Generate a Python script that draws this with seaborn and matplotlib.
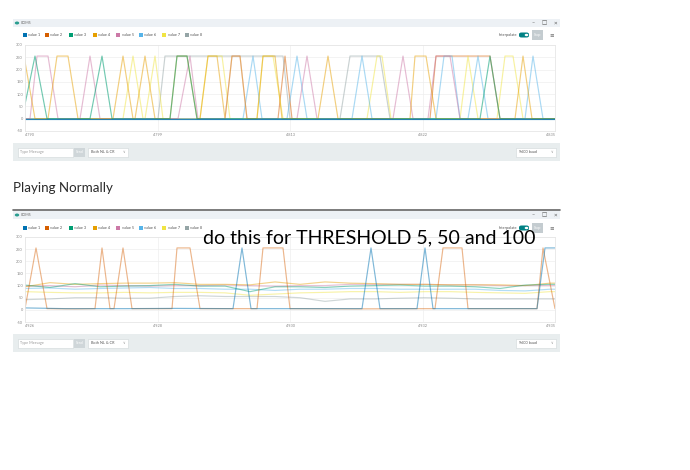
import numpy as np
import pandas as pd
import matplotlib
matplotlib.use("Agg")
import matplotlib.pyplot as plt
import seaborn as sns
from matplotlib.patches import Rectangle, FancyBboxPatch, Circle

sns.set_theme(style="white")
plt.rcParams['font.family'] = ['Lato', 'DejaVu Sans']

# ---------------- data ----------------
series_names = ["value 1", "value 2", "value 3", "value 4",
                "value 5", "value 6", "value 7", "value 8"]
series_colors = ["#0072B2", "#D55E00", "#009E73", "#E69F00",
                 "#CC79A7", "#56B4E9", "#F0E442", "#95A5A6"]
y_ticks = [-50, 0, 50, 100, 150, 200, 250, 300]
x_tick_pos = [0, 132.5, 265, 397.5, 530]
top_xticklabels = ["4790", "4799", "4813", "4822", "4835"]
bottom_xticklabels = ["4926", "4928", "4930", "4932", "4935"]

# top chart: pulses (rise start, top start, top end, fall end) per series
top_pulses_v1 = []
top_pulses_v2 = [(253, 260, 260, 267), (405, 411, 465, 475)]
top_pulses_v3 = [(-3, 10, 10, 22), (65, 77, 77, 87), (145, 152, 162, 172),
                 (455, 465, 465, 475)]
top_pulses_v4 = [(-20, -10, -1, 10), (23, 32, 43, 53), (88, 98, 98, 108),
                 (110, 120, 120, 130), (145, 152, 162, 172), (175, 183, 192, 200),
                 (200, 207, 215, 222), (232, 238, 250, 257), (293, 303, 303, 313),
                 (385, 390, 401, 411), (490, 498, 498, 507)]
top_pulses_v5 = [(5, 12, 23, 33), (55, 65, 65, 75), (153, 165, 165, 173),
                 (200, 207, 215, 222), (272, 282, 282, 292), (368, 378, 378, 388),
                 (403, 411, 425, 435)]
top_pulses_v6 = [(218, 228, 228, 237), (262, 272, 272, 282), (327, 337, 337, 347),
                 (411, 419, 427, 435), (443, 453, 453, 463), (500, 508, 508, 518)]
top_pulses_v7 = [(98, 108, 108, 118), (120, 130, 130, 138), (175, 183, 197, 205),
                 (232, 238, 248, 258), (342, 352, 357, 366), (435, 443, 443, 453),
                 (472, 480, 488, 498)]
top_pulses_v8 = [(133, 140, 258, 265), (315, 325, 355, 365)]
top_low = 0
top_high = 255

# bottom chart
bot_v1_x = [0, 40, 100, 150, 208, 217, 226, 280, 337, 346, 355, 392, 400, 408,
            470, 512, 520, 530]
bot_v1_y = [8, 5, 5, 6, 5, 255, 5, 5, 5, 255, 5, 5, 255, 5, 5, 5, 255, 255]
bot_v2_x = [0, 11, 22, 50, 70, 77, 85, 89, 98, 107, 147, 152, 165, 175, 232,
            238, 258, 265, 330, 410, 418, 437, 443, 512, 518, 530]
bot_v2_y = [5, 255, 5, 4, 5, 255, 5, 5, 255, 5, 5, 255, 255, 5, 5, 255, 255,
            5, 4, 5, 255, 255, 5, 5, 255, 5]
bot_t = [0, 25, 50, 75, 100, 125, 150, 175, 200, 225, 250, 275, 300, 325,
         350, 375, 400, 425, 450, 475, 500, 525, 530]
bot_v3 = [102, 92, 108, 95, 98, 100, 105, 98, 98, 75, 95, 95, 92, 98, 100,
          102, 98, 98, 95, 88, 102, 105, 105]
bot_v4 = [95, 112, 105, 108, 110, 110, 112, 105, 105, 103, 115, 105, 115, 110,
          108, 105, 105, 103, 103, 103, 100, 110, 110]
bot_v5 = [98, 100, 95, 102, 100, 98, 100, 100, 102, 100, 98, 100, 100, 105,
          105, 105, 105, 103, 103, 100, 100, 100, 100]
bot_v6 = [88, 90, 85, 88, 90, 92, 88, 88, 85, 85, 80, 85, 85, 88, 88, 85, 85,
          85, 85, 80, 78, 85, 85]
bot_v7 = [75, 72, 70, 70, 72, 70, 72, 72, 70, 60, 65, 70, 72, 75, 75, 72, 75,
          75, 72, 70, 68, 75, 75]
bot_v8 = [42, 45, 50, 50, 48, 48, 55, 58, 55, 55, 55, 50, 35, 45, 45, 48, 50,
          48, 45, 45, 45, 45, 45]


def pulses_xy(pulses, low, high):
    xs, ys = [-40], [low]
    for a, b, c, d in pulses:
        xs += [a, b, c, d]
        ys += [low, high, high, low]
    xs.append(570)
    ys.append(low)
    return xs, ys


# ---------------- figure ----------------
W, H = 690, 470
fig = plt.figure(figsize=(6.9, 4.7), dpi=100)
fig.patch.set_facecolor("white")


def px(x, y):
    return x / W, 1 - y / H


def rect(x, y, w, h, **kw):
    fig.add_artist(Rectangle((x / W, 1 - (y + h) / H), w / W, h / H,
                             transform=fig.transFigure, **kw))


def rrect(x, y, w, h, r=1.5, **kw):
    fig.add_artist(FancyBboxPatch((x / W, 1 - (y + h) / H), w / W, h / H,
                                  boxstyle=f"round,pad=0,rounding_size={r / W}",
                                  transform=fig.transFigure, **kw))


def ftext(x, y, s, **kw):
    fig.text(x / W, 1 - y / H, s, **kw)


def window(top, plot_top, plot_bot, bar_top, bar_h, legend_y):
    # title bar
    rect(13, top, 547, 8, facecolor="#edf1f5", edgecolor="none")
    fig.add_artist(Circle(px(17, top + 4), 2.2 / W, transform=fig.transFigure,
                          facecolor="#2a9d8f", edgecolor="none"))
    ftext(21, top + 4, "COM5", fontsize=2.6, color="#666", va="center")
    ftext(533, top + 4, "\u2013", fontsize=4, color="#555", va="center", ha="center")
    ftext(544, top + 4, "\u25a1", fontsize=4, color="#555", va="center", ha="center",
          family="DejaVu Sans")
    ftext(555, top + 4, "\u00d7", fontsize=4.5, color="#555", va="center", ha="center")
    # legend
    lx = [23, 45, 69, 93, 116, 139, 162, 185]
    for x, name, c in zip(lx, series_names, series_colors):
        rect(x, legend_y - 2, 4, 4, facecolor=c, edgecolor="none")
        ftext(x + 5.5, legend_y, name, fontsize=2.8, color="#555", va="center")
    # interpolate toggle, stop button, icon
    ftext(517, legend_y, "Interpolate", fontsize=2.8, color="#555", va="center", ha="right")
    rrect(519, legend_y - 2.5, 10, 5, r=2.5, facecolor="#008184", edgecolor="none")
    fig.add_artist(Circle(px(526.5, legend_y), 1.8 / W, transform=fig.transFigure,
                          facecolor="white", edgecolor="none"))
    rect(532, legend_y - 5, 11, 10, facecolor="#c4ccd0", edgecolor="none")
    ftext(537.5, legend_y, "Stop", fontsize=2.6, color="white", va="center", ha="center")
    ftext(552, legend_y, "\u2261", fontsize=4, color="#666", va="center", ha="center",
          family="DejaVu Sans")
    # bottom control bar
    rect(13, bar_top, 547, bar_h, facecolor="#e8edee", edgecolor="none")
    cy = bar_top + bar_h / 2
    rect(18, cy - 4.5, 55, 9, facecolor="white", edgecolor="#d0d6d8", linewidth=0.4)
    ftext(20, cy, "Type Message", fontsize=2.7, color="#999", va="center")
    rect(74, cy - 4.5, 11, 9, facecolor="#cfd6d9", edgecolor="none")
    ftext(79.5, cy, "Send", fontsize=2.5, color="white", va="center", ha="center")
    rect(88, cy - 4.5, 40, 9, facecolor="white", edgecolor="#d0d6d8", linewidth=0.4)
    ftext(91, cy, "Both NL & CR", fontsize=2.7, color="#555", va="center")
    ftext(124, cy, "\u2228", fontsize=2.6, color="#999", va="center", ha="center",
          family="DejaVu Sans")
    rect(516, cy - 4.5, 40, 9, facecolor="white", edgecolor="#d0d6d8", linewidth=0.4)
    ftext(519, cy, "9600 baud", fontsize=2.7, color="#555", va="center")
    ftext(552, cy, "\u2228", fontsize=2.6, color="#999", va="center", ha="center",
          family="DejaVu Sans")
    # axes
    ax = fig.add_axes([25 / W, 1 - plot_bot / H, 530 / W, (plot_bot - plot_top) / H])
    ax.set_facecolor("white")
    return ax


def style_axes(ax, xlabels):
    ax.set_xlim(0, 530)
    ax.set_ylim(-50, 300)
    ax.set_yticks(y_ticks)
    ax.set_yticklabels([str(v) for v in y_ticks])
    ax.set_xticks(x_tick_pos)
    ax.set_xticklabels(xlabels)
    ax.tick_params(axis="both", length=0, labelsize=2.8, labelcolor="#888", pad=1.5)
    for lbl, ha in zip(ax.get_xticklabels(), ["left", "center", "center", "center", "right"]):
        lbl.set_ha(ha)
    ax.grid(True, color="#eeeeee", linewidth=0.5)
    ax.set_axisbelow(True)
    for s in ax.spines.values():
        s.set_color("#e6e6e6")
        s.set_linewidth(0.6)
    ax.set_xlabel("")
    ax.set_ylabel("")


# ---------- top window ----------
ax1 = window(top=19, plot_top=45, plot_bot=131, bar_top=143, bar_h=18, legend_y=35)
top_pulses = [top_pulses_v1, top_pulses_v2, top_pulses_v3, top_pulses_v4,
              top_pulses_v5, top_pulses_v6, top_pulses_v7, top_pulses_v8]
order = [1, 7, 6, 5, 4, 3, 2, 0]
top_alpha = [0.8, 0.5, 0.55, 0.5, 0.5, 0.5, 0.5, 0.5]
for i in order:
    xs, ys = pulses_xy(top_pulses[i], top_low, top_high)
    sns.lineplot(x=xs, y=ys, ax=ax1, color=series_colors[i], linewidth=0.85,
                 alpha=top_alpha[i], estimator=None, sort=False, legend=False)
style_axes(ax1, top_xticklabels)

# ---------- text ----------
ftext(13, 188, "Playing Normally", fontsize=9.6, color="#2a2a2a", va="center")

# ---------- bottom window ----------
fig.add_artist(plt.Line2D([13 / W, 560 / W], [1 - 210 / H, 1 - 210 / H],
                          transform=fig.transFigure, color="#666", linewidth=1.2))
ax2 = window(top=211, plot_top=237, plot_bot=322, bar_top=334, bar_h=18, legend_y=228)
bot_series = [(bot_v8, 7), (bot_v7, 6), (bot_v6, 5), (bot_v5, 4), (bot_v4, 3), (bot_v3, 2)]
for vals, i in bot_series:
    sns.lineplot(x=bot_t, y=vals, ax=ax2, color=series_colors[i], linewidth=0.85,
                 alpha=0.45, estimator=None, sort=False, legend=False)
sns.lineplot(x=bot_v2_x, y=bot_v2_y, ax=ax2, color=series_colors[1], linewidth=0.85,
             alpha=0.45, estimator=None, sort=False, legend=False)
sns.lineplot(x=bot_v1_x, y=bot_v1_y, ax=ax2, color=series_colors[0], linewidth=0.85,
             alpha=0.5, estimator=None, sort=False, legend=False)
style_axes(ax2, bottom_xticklabels)

ftext(203, 238, "do this for THRESHOLD 5, 50 and 100", fontsize=14, color="black",
      va="center", zorder=10)

fig.savefig("out.png", dpi=100, facecolor="white")
